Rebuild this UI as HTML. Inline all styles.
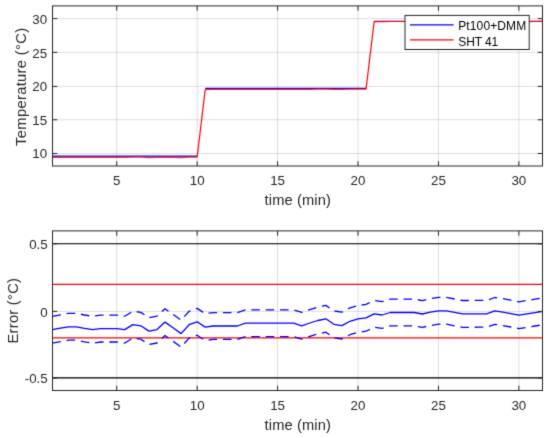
<!DOCTYPE html>
<html><head><meta charset="utf-8"><title>Temperature and error plot</title>
<style>
html,body{margin:0;padding:0;background:#fff;}
body{width:550px;height:438px;overflow:hidden;}
svg{display:block;}
</style></head>
<body>
<svg width="550" height="438" viewBox="0 0 550 438">
<defs><filter id="soft" x="0" y="0" width="1" height="1" color-interpolation-filters="sRGB"><feConvolveMatrix order="3" kernelMatrix="0.02 0.08 0.02 0.08 0.60 0.08 0.02 0.08 0.02" edgeMode="duplicate" preserveAlpha="true"/></filter></defs>
<g filter="url(#soft)">
<rect width="550" height="438" fill="#fff"/>
<path d="M116.73,5.90 V166.00 M197.16,5.90 V166.00 M277.59,5.90 V166.00 M358.02,5.90 V166.00 M438.45,5.90 V166.00 M518.88,5.90 V166.00 M52.50,18.60 H542.50 M52.50,52.35 H542.50 M52.50,86.40 H542.50 M52.50,119.75 H542.50 M52.50,153.50 H542.50" stroke="#262626" stroke-opacity="0.15" stroke-width="1" fill="none"/>
<path d="M52.39,156.20 L60.43,156.20 L68.48,156.20 L76.52,156.20 L84.56,156.20 L92.60,156.20 L100.65,156.20 L108.69,156.20 L116.73,156.20 L124.78,156.20 L132.82,156.20 L140.86,156.20 L148.91,156.20 L156.95,156.20 L164.99,156.20 L173.03,156.20 L181.08,156.20 L189.12,156.20 L197.16,156.20" stroke="#0000ff" fill="none" stroke-linejoin="round" stroke-width="1.2"/>
<path d="M205.21,88.40 L213.25,88.40 L221.29,88.40 L229.34,88.40 L237.38,88.40 L245.42,88.40 L253.46,88.40 L261.51,88.40 L269.55,88.40 L277.59,88.40 L285.64,88.40 L293.68,88.40 L301.72,88.40 L309.77,88.40 L317.81,88.40 L325.85,88.40 L333.89,88.40 L341.94,88.40 L349.98,88.40 L358.02,88.40 L366.07,88.40" stroke="#0000ff" fill="none" stroke-linejoin="round" stroke-width="1.2"/>
<path d="M374.11,21.42 L382.15,21.42 L390.20,21.42 L398.24,21.42 L406.28,21.42 L414.32,21.42 L422.37,21.42 L430.41,21.42 L438.45,21.42 L446.50,21.42 L454.54,21.42 L462.58,21.42 L470.63,21.42 L478.67,21.42 L486.71,21.42 L494.75,21.42 L502.80,21.42 L510.84,21.42 L518.88,21.42 L526.93,21.42 L534.97,21.42 L543.01,21.42" stroke="#0000ff" fill="none" stroke-linejoin="round" stroke-width="1.2"/>
<path d="M52.39,157.46 L60.43,157.38 L68.48,157.31 L76.52,157.31 L84.56,157.39 L92.60,157.46 L100.65,157.40 L108.69,157.40 L116.73,157.40 L124.78,157.45 L132.82,157.20 L140.86,157.26 L148.91,157.53 L156.95,157.45 L164.99,157.08 L173.03,157.36 L181.08,157.65 L189.12,157.21 L197.16,157.06" stroke="#ff0000" fill="none" stroke-linejoin="round" stroke-width="1.2" stroke-opacity="0.85"/>
<path d="M205.21,89.53 L213.25,89.47 L221.29,89.47 L229.34,89.47 L237.38,89.47 L245.42,89.33 L253.46,89.33 L261.51,89.33 L269.55,89.33 L277.59,89.33 L285.64,89.33 L293.68,89.33 L301.72,89.46 L309.77,89.32 L317.81,89.19 L325.85,89.11 L333.89,89.39 L341.94,89.45 L349.98,89.24 L358.02,89.11 L366.07,89.06" stroke="#ff0000" fill="none" stroke-linejoin="round" stroke-width="1.2" stroke-opacity="0.85"/>
<path d="M197.16,157.06 L205.21,89.53" stroke="#ff0000" fill="none" stroke-linejoin="round" stroke-width="1.2"/>
<path d="M366.07,89.06 L374.11,21.54 L382.15,21.60 L390.20,21.48 L398.24,21.48 L406.28,21.48 L414.32,21.48 L422.37,21.55 L430.41,21.46 L438.45,21.39 L446.50,21.39 L454.54,21.47 L462.58,21.55 L470.63,21.55 L478.67,21.54 L486.71,21.54 L494.75,21.39 L502.80,21.46 L510.84,21.53 L518.88,21.61 L526.93,21.55 L534.97,21.48 L543.01,21.41" stroke="#ff0000" fill="none" stroke-linejoin="round" stroke-width="1.2"/>
<path d="M116.73,166.00 v-4.8 M116.73,5.90 v4.8 M197.16,166.00 v-4.8 M197.16,5.90 v4.8 M277.59,166.00 v-4.8 M277.59,5.90 v4.8 M358.02,166.00 v-4.8 M358.02,5.90 v4.8 M438.45,166.00 v-4.8 M438.45,5.90 v4.8 M518.88,166.00 v-4.8 M518.88,5.90 v4.8 M52.50,18.60 h4.8 M542.50,18.60 h-4.8 M52.50,52.35 h4.8 M542.50,52.35 h-4.8 M52.50,86.40 h4.8 M542.50,86.40 h-4.8 M52.50,119.75 h4.8 M542.50,119.75 h-4.8 M52.50,153.50 h4.8 M542.50,153.50 h-4.8" stroke="#262626" stroke-width="1" fill="none"/>
<rect x="52.50" y="5.90" width="490.00" height="160.10" stroke="#262626" stroke-width="1" fill="none"/>
<path d="M116.73,230.90 V390.50 M197.16,230.90 V390.50 M277.59,230.90 V390.50 M358.02,230.90 V390.50 M438.45,230.90 V390.50 M518.88,230.90 V390.50 M52.50,243.75 H542.50 M52.50,311.40 H542.50 M52.50,377.90 H542.50" stroke="#262626" stroke-opacity="0.15" stroke-width="1" fill="none"/>
<path d="M52.50,243.75 H542.50 M52.50,377.90 H542.50" stroke="#000" stroke-width="1.1" fill="none"/>
<path d="M52.50,284.35 H542.50 M52.50,337.80 H542.50" stroke="#ff0000" stroke-width="1.3" fill="none"/>
<path d="M52.39,329.70 L60.43,328.20 L68.48,326.80 L76.52,326.80 L84.56,328.40 L92.60,329.70 L100.65,328.60 L108.69,328.60 L116.73,328.60 L124.78,329.60 L132.82,324.60 L140.86,325.80 L148.91,331.10 L156.95,329.60 L164.99,322.10 L173.03,327.80 L181.08,333.60 L189.12,324.70 L197.16,321.80 L205.21,327.10 L213.25,326.00 L221.29,326.00 L229.34,326.00 L237.38,326.00 L245.42,323.20 L253.46,323.20 L261.51,323.20 L269.55,323.20 L277.59,323.20 L285.64,323.20 L293.68,323.20 L301.72,325.80 L309.77,323.00 L317.81,320.50 L325.85,318.80 L333.89,324.30 L341.94,325.60 L349.98,321.30 L358.02,318.90 L366.07,317.80 L374.11,313.80 L382.15,315.00 L390.20,312.50 L398.24,312.50 L406.28,312.50 L414.32,312.50 L422.37,314.00 L430.41,312.10 L438.45,310.80 L446.50,310.80 L454.54,312.40 L462.58,313.90 L470.63,313.90 L478.67,313.80 L486.71,313.80 L494.75,310.90 L502.80,312.10 L510.84,313.60 L518.88,315.20 L526.93,313.90 L534.97,312.60 L543.01,311.30" stroke="#0000ff" stroke-width="1.3" fill="none" stroke-linejoin="round"/>
<path d="M52.39,316.29 L60.43,314.79 L68.48,313.39 L76.52,313.39 L84.56,314.99 L92.60,316.29 L100.65,315.19 L108.69,315.19 L116.73,315.19 L124.78,316.19 L132.82,311.19 L140.86,312.39 L148.91,317.69 L156.95,316.19 L164.99,308.69 L173.03,314.39 L181.08,320.19 L189.12,311.29 L197.16,308.39 L205.21,313.69 L213.25,312.59 L221.29,312.59 L229.34,312.59 L237.38,312.59 L245.42,309.79 L253.46,309.79 L261.51,309.79 L269.55,309.79 L277.59,309.79 L285.64,309.79 L293.68,309.79 L301.72,312.39 L309.77,309.59 L317.81,307.09 L325.85,305.39 L333.89,310.89 L341.94,312.19 L349.98,307.89 L358.02,305.49 L366.07,304.39 L374.11,300.39 L382.15,301.59 L390.20,299.09 L398.24,299.09 L406.28,299.09 L414.32,299.09 L422.37,300.59 L430.41,298.69 L438.45,297.39 L446.50,297.39 L454.54,298.99 L462.58,300.49 L470.63,300.49 L478.67,300.39 L486.71,300.39 L494.75,297.49 L502.80,298.69 L510.84,300.19 L518.88,301.79 L526.93,300.49 L534.97,299.19 L543.01,297.89" stroke="#0000ff" stroke-width="1.3" fill="none" stroke-linejoin="round" stroke-dasharray="8.6 5.8"/>
<path d="M52.39,343.11 L60.43,341.61 L68.48,340.21 L76.52,340.21 L84.56,341.81 L92.60,343.11 L100.65,342.01 L108.69,342.01 L116.73,342.01 L124.78,343.01 L132.82,338.01 L140.86,339.21 L148.91,344.51 L156.95,343.01 L164.99,335.51 L173.03,341.21 L181.08,347.01 L189.12,338.11 L197.16,335.21 L205.21,340.51 L213.25,339.41 L221.29,339.41 L229.34,339.41 L237.38,339.41 L245.42,336.61 L253.46,336.61 L261.51,336.61 L269.55,336.61 L277.59,336.61 L285.64,336.61 L293.68,336.61 L301.72,339.21 L309.77,336.41 L317.81,333.91 L325.85,332.21 L333.89,337.71 L341.94,339.01 L349.98,334.71 L358.02,332.31 L366.07,331.21 L374.11,327.21 L382.15,328.41 L390.20,325.91 L398.24,325.91 L406.28,325.91 L414.32,325.91 L422.37,327.41 L430.41,325.51 L438.45,324.21 L446.50,324.21 L454.54,325.81 L462.58,327.31 L470.63,327.31 L478.67,327.21 L486.71,327.21 L494.75,324.31 L502.80,325.51 L510.84,327.01 L518.88,328.61 L526.93,327.31 L534.97,326.01 L543.01,324.71" stroke="#0000ff" stroke-width="1.3" fill="none" stroke-linejoin="round" stroke-dasharray="8.6 5.8"/>
<path d="M116.73,390.50 v-4.8 M116.73,230.90 v4.8 M197.16,390.50 v-4.8 M197.16,230.90 v4.8 M277.59,390.50 v-4.8 M277.59,230.90 v4.8 M358.02,390.50 v-4.8 M358.02,230.90 v4.8 M438.45,390.50 v-4.8 M438.45,230.90 v4.8 M518.88,390.50 v-4.8 M518.88,230.90 v4.8 M52.50,243.75 h4.8 M542.50,243.75 h-4.8 M52.50,311.40 h4.8 M542.50,311.40 h-4.8 M52.50,377.90 h4.8 M542.50,377.90 h-4.8" stroke="#262626" stroke-width="1" fill="none"/>
<rect x="52.50" y="230.90" width="490.00" height="159.60" stroke="#262626" stroke-width="1" fill="none"/>
<g font-family="'Liberation Sans', Arial, Helvetica, sans-serif" fill="#262626">
<text x="116.73" y="185.1" font-size="13.33" text-anchor="middle">5</text>
<text x="197.16" y="185.1" font-size="13.33" text-anchor="middle">10</text>
<text x="277.59" y="185.1" font-size="13.33" text-anchor="middle">15</text>
<text x="358.02" y="185.1" font-size="13.33" text-anchor="middle">20</text>
<text x="438.45" y="185.1" font-size="13.33" text-anchor="middle">25</text>
<text x="518.88" y="185.1" font-size="13.33" text-anchor="middle">30</text>
<text x="116.73" y="410.0" font-size="13.33" text-anchor="middle">5</text>
<text x="197.16" y="410.0" font-size="13.33" text-anchor="middle">10</text>
<text x="277.59" y="410.0" font-size="13.33" text-anchor="middle">15</text>
<text x="358.02" y="410.0" font-size="13.33" text-anchor="middle">20</text>
<text x="438.45" y="410.0" font-size="13.33" text-anchor="middle">25</text>
<text x="518.88" y="410.0" font-size="13.33" text-anchor="middle">30</text>
<text x="47.2" y="24.20" font-size="13.33" text-anchor="end">30</text>
<text x="47.2" y="58.00" font-size="13.33" text-anchor="end">25</text>
<text x="47.2" y="91.20" font-size="13.33" text-anchor="end">20</text>
<text x="47.2" y="124.80" font-size="13.33" text-anchor="end">15</text>
<text x="47.2" y="158.20" font-size="13.33" text-anchor="end">10</text>
<text x="47.7" y="249.30" font-size="13.33" text-anchor="end">0.5</text>
<text x="47.7" y="317.00" font-size="13.33" text-anchor="end">0</text>
<text x="47.7" y="383.10" font-size="13.33" text-anchor="end">-0.5</text>
<text x="297.7" y="205.1" font-size="14.67" text-anchor="middle" textLength="66.3" lengthAdjust="spacing">time (min)</text>
<text x="297.7" y="430.0" font-size="14.67" text-anchor="middle" textLength="66.3" lengthAdjust="spacing">time (min)</text>
<text transform="translate(25.8,86.9) rotate(-90)" font-size="14.67" text-anchor="middle" textLength="118" lengthAdjust="spacing">Temperature (°C)</text>
<text transform="translate(17.8,310.75) rotate(-90)" font-size="14.67" text-anchor="middle" textLength="65.4" lengthAdjust="spacing">Error (°C)</text>
</g>
<rect x="405.0" y="15.4" width="124.20" height="34.10" fill="#fff" stroke="#262626" stroke-width="1"/>
<path d="M410,24.9 H453.6" stroke="#0000ff" stroke-width="1.3"/>
<path d="M410,39.9 H453.6" stroke="#ff0000" stroke-width="1.3"/>
<g font-family="'Liberation Sans', Arial, Helvetica, sans-serif" fill="#000" font-size="12">
<text x="458.2" y="29.6" textLength="68" lengthAdjust="spacing">Pt100+DMM</text>
<text x="458.2" y="45.5" textLength="40.1" lengthAdjust="spacing">SHT 41</text>
</g>
</g>
</svg>
</body></html>
